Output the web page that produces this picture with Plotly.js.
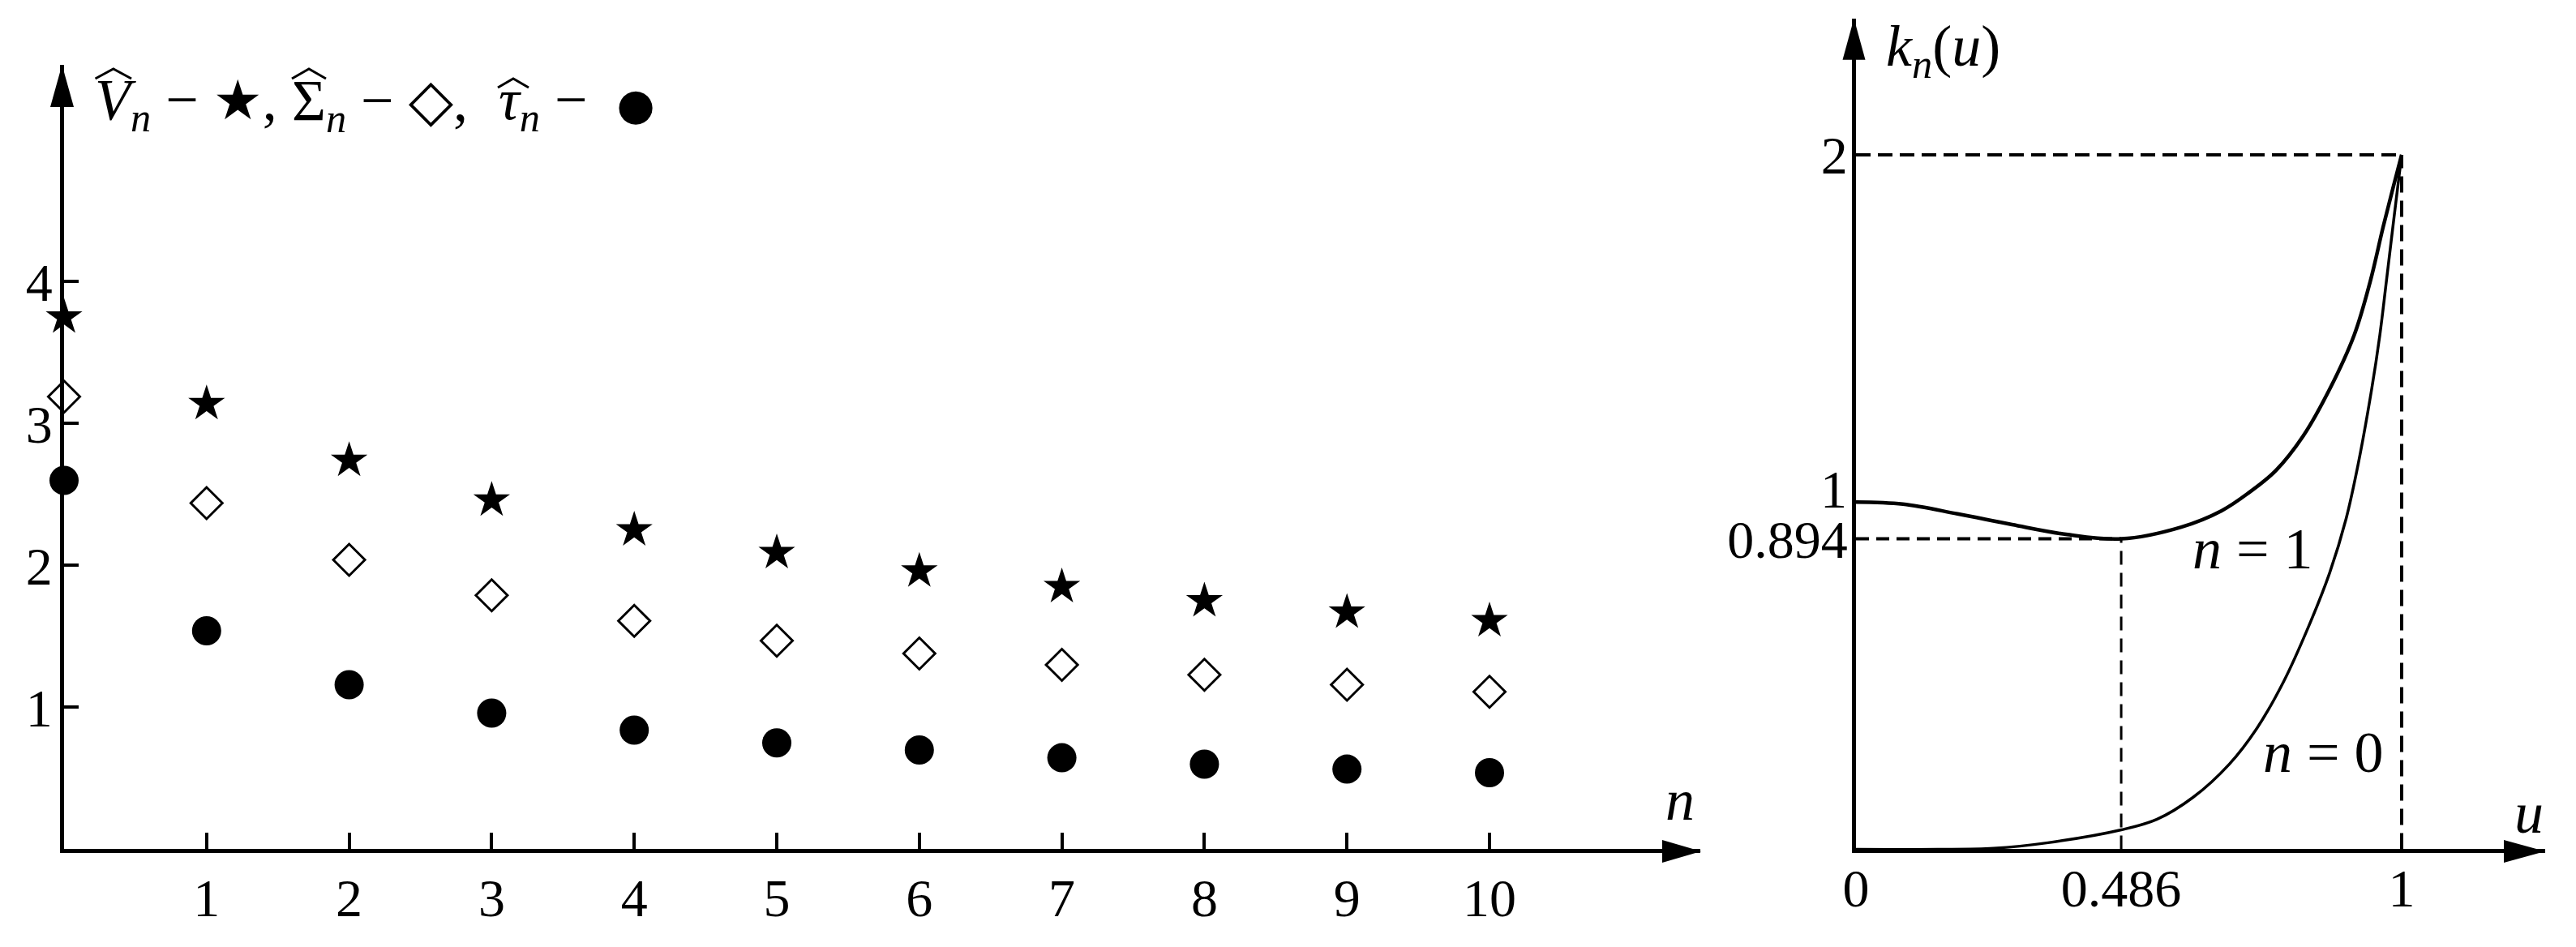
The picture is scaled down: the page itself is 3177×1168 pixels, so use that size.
<!DOCTYPE html>
<html>
<head>
<meta charset="utf-8">
<script src="https://cdn.plot.ly/plotly-3.0.1.min.js"></script>
<style>
  html, body { margin: 0; padding: 0; background: #fff; }
  #chart { width: 3177px; height: 1168px; }
</style>
</head>
<body>
<div id="chart"></div>
<script>
  // left panel: estimates against n
  var nVals = [0, 1, 2, 3, 4, 5, 6, 7, 8, 9, 10];
  var vHat = [3.75, 3.14, 2.74, 2.46, 2.25, 2.09, 1.96, 1.85, 1.75, 1.67, 1.61];
  var sigmaHat = [3.19, 2.44, 2.04, 1.79, 1.61, 1.47, 1.38, 1.30, 1.23, 1.16, 1.11];
  var tauHat = [2.60, 1.54, 1.16, 0.96, 0.84, 0.75, 0.70, 0.645, 0.60, 0.565, 0.54];
  var nTicks = [1, 2, 3, 4, 5, 6, 7, 8, 9, 10];
  var leftYTicks = [1, 2, 3, 4];

  // right panel: k_n(u)
  var u1 = [0, 0.086, 0.186, 0.286, 0.385, 0.486, 0.596, 0.670, 0.720, 0.769, 0.819, 0.868, 0.913, 0.9425, 0.966, 0.985, 1];
  var k1 = [1.0, 0.994, 0.966, 0.935, 0.907, 0.894, 0.928, 0.975, 1.027, 1.09, 1.189, 1.325, 1.481, 1.636, 1.792, 1.91, 2];
  var u0 = [0, 0.15, 0.252, 0.352, 0.486, 0.551, 0.618, 0.684, 0.7345, 0.784, 0.829, 0.868, 0.898, 0.920, 0.945, 0.960, 0.972, 0.986, 1];
  var k0 = [0, 0, 0.003, 0.019, 0.056, 0.086, 0.15, 0.245, 0.348, 0.484, 0.640, 0.796, 0.951, 1.107, 1.325, 1.481, 1.636, 1.82, 2];
  var uMin = 0.486, kMin = 0.894, uEnd = 1, kEnd = 2;
  var uTicks = [0, 0.486, 1];
  var uTickText = ["0", "0.486", "1"];
  var kTicks = [0.894, 2];
  var kTickText = ["0.894", "2"];

  var serif = "Liberation Serif";
  var black = "#000";

  var data = [
    {
      x: nVals, y: vHat, mode: "markers", xaxis: "x", yaxis: "y", cliponaxis: false,
      marker: { symbol: "star", size: 34, color: black }
    },
    {
      x: nVals, y: sigmaHat, mode: "markers", xaxis: "x", yaxis: "y", cliponaxis: false,
      marker: { symbol: "diamond-open", size: 30, color: black, line: { width: 3, color: black } }
    },
    {
      x: nVals, y: tauHat, mode: "markers", xaxis: "x", yaxis: "y", cliponaxis: false,
      marker: { symbol: "circle", size: 36, color: black }
    },
    // dashed guides
    {
      x: [0, uEnd], y: [kEnd, kEnd], mode: "lines", xaxis: "x2", yaxis: "y2",
      line: { color: black, width: 4, dash: "18px,9px" }
    },
    {
      x: [uEnd, uEnd], y: [0, kEnd], mode: "lines", xaxis: "x2", yaxis: "y2",
      line: { color: black, width: 4, dash: "20px,10px" }
    },
    {
      x: [0, uMin], y: [kMin, kMin], mode: "lines", xaxis: "x2", yaxis: "y2",
      line: { color: black, width: 4, dash: "16px,9px" }
    },
    {
      x: [uMin, uMin], y: [0, kMin], mode: "lines", xaxis: "x2", yaxis: "y2",
      line: { color: black, width: 3, dash: "17px,10px" }
    },
    {
      x: u1, y: k1, mode: "lines", xaxis: "x2", yaxis: "y2", cliponaxis: false,
      line: { color: black, width: 4.5, shape: "spline", smoothing: 1 }
    },
    {
      x: u0, y: k0, mode: "lines", xaxis: "x2", yaxis: "y2", cliponaxis: false,
      line: { color: black, width: 3.5, shape: "spline", smoothing: 1 }
    }
  ];

  var tickFont = { family: serif, size: 66, color: black };
  var labelFont = { family: serif, size: 72, color: black };
  var symStyle = "font-family:'DejaVu Sans';";

  var layout = {
    width: 3177,
    height: 1168,
    margin: { l: 0, r: 0, t: 0, b: 0 },
    paper_bgcolor: "#fff",
    plot_bgcolor: "rgba(0,0,0,0)",
    showlegend: false,
    font: { family: serif, color: black },
    xaxis: {
      domain: [0.024866, 0.660119], range: [0, 11.48], anchor: "y",
      showgrid: false, zeroline: false, showline: true, linewidth: 5, linecolor: black,
      tickvals: nTicks, ticks: "inside", ticklen: 20, tickwidth: 4, tickcolor: black,
      tickfont: tickFont, ticklabelstandoff: -2
    },
    yaxis: {
      domain: [0.103168, 0.931721], range: [0, 5.53], anchor: "x",
      showgrid: false, zeroline: false, showline: true, linewidth: 5, linecolor: black,
      tickvals: leftYTicks, ticks: "inside", ticklen: 18, tickwidth: 4, tickcolor: black,
      tickfont: tickFont, ticklabelstandoff: -4
    },
    xaxis2: {
      domain: [0.720491, 0.988039], range: [0, 1.263], anchor: "y2",
      showgrid: false, zeroline: false, showline: true, linewidth: 5, linecolor: black,
      tickvals: uTicks, ticktext: uTickText, ticks: "",
      tickfont: tickFont, ticklabelstandoff: -14
    },
    yaxis2: {
      domain: [0.103168, 0.980651], range: [0, 2.393], anchor: "x2",
      showgrid: false, zeroline: false, showline: true, linewidth: 5, linecolor: black,
      tickvals: kTicks, ticktext: kTickText, ticks: "",
      tickfont: tickFont, ticklabelstandoff: -8
    },
    shapes: [
      // arrow heads (paper coords so they are not clipped)
      { type: "path", xref: "paper", yref: "paper", path: "M 0.019515,0.886986 L 0.024079,0.931507 L 0.028643,0.886986 Z", fillcolor: black, line: { width: 0 } },
      { type: "path", xref: "paper", yref: "paper", path: "M 0.645263,0.089041 L 0.660371,0.101027 L 0.645263,0.113014 Z", fillcolor: black, line: { width: 0 } },
      { type: "path", xref: "paper", yref: "paper", path: "M 0.715297,0.936901 L 0.719704,0.980565 L 0.724111,0.936901 Z", fillcolor: black, line: { width: 0 } },
      { type: "path", xref: "paper", yref: "paper", path: "M 0.971986,0.089041 L 0.988039,0.101027 L 0.971986,0.113014 Z", fillcolor: black, line: { width: 0 } },
      // wide hats over V, Sigma, tau
      { type: "path", xref: "paper", yref: "paper", path: "M 0.037,0.916952 L 0.0440,0.927226 L 0.0510,0.916952", line: { width: 3, color: black } },
      { type: "path", xref: "paper", yref: "paper", path: "M 0.113314,0.916952 L 0.119924,0.927226 L 0.126535,0.916952", line: { width: 3, color: black } },
      { type: "path", xref: "paper", yref: "paper", path: "M 0.193264,0.907534 L 0.199244,0.916952 L 0.205225,0.907534", line: { width: 3, color: black } }
    ],
    annotations: [
      {
        xref: "paper", yref: "paper", x: 0.036198, y: 0.890411, xanchor: "left", yanchor: "middle", showarrow: false,
        text: "<i>V</i><sub><i>n</i></sub> \u2212 <span style=\"" + symStyle + "font-size:68px\">\u2605</span>,",
        font: labelFont
      },
      {
        xref: "paper", yref: "paper", x: 0.112685, y: 0.890411, xanchor: "left", yanchor: "middle", showarrow: false,
        text: "\u03a3<sub><i>n</i></sub> \u2212 <span style=\"" + symStyle + "font-size:72px\">\u25c7</span>,",
        font: labelFont
      },
      {
        xref: "paper", yref: "paper", x: 0.192949, y: 0.890411, xanchor: "left", yanchor: "middle", showarrow: false,
        text: "<i>\u03c4</i><sub><i>n</i></sub> \u2212  <span style=\"" + symStyle + "font-size:54px\">\u25cf</span>",
        font: labelFont
      },
      { xref: "x", yref: "y", x: 11.337, y: 0.346, showarrow: false, text: "<i>n</i>", font: labelFont },
      {
        xref: "x2", yref: "y2", x: 0.16, y: 2.302, showarrow: false,
        text: "<i>k</i><sub><i>n</i></sub>(<i>u</i>)", font: labelFont
      },
      { xref: "x2", yref: "y2", x: 1.2335, y: 0.105, showarrow: false, text: "<i>u</i>", font: labelFont },
      { xref: "x2", yref: "y2", x: 0.7275, y: 0.865, showarrow: false, text: "<i>n</i> = 1", font: labelFont },
      { xref: "x2", yref: "y2", x: 0.857, y: 0.278, showarrow: false, text: "<i>n</i> = 0", font: labelFont },
      {
        xref: "x2", yref: "y2", x: 0, y: 1, xanchor: "right", xshift: -9, yshift: 16,
        showarrow: false, text: "1", font: tickFont
      }
    ]
  };

  Plotly.newPlot("chart", data, layout, { staticPlot: true });
</script>
</body>
</html>
